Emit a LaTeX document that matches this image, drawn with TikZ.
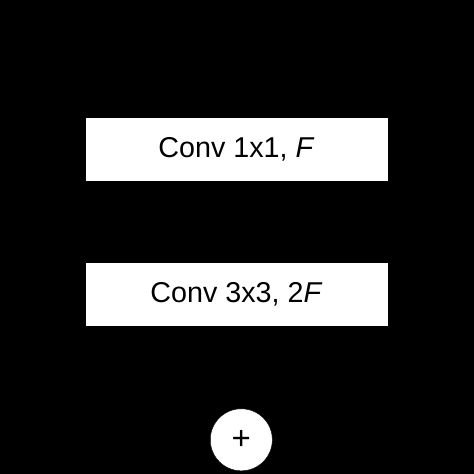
\documentclass[tikz,border=0pt]{standalone}
\usepackage{fontspec}
\setmainfont{Liberation Sans}
\usepackage{tikz}
\usetikzlibrary{positioning,arrows.meta}
\tikzset{
    layer/.style = {rectangle, draw = black, fill = white, minimum width = 303pt, minimum height = 64pt, inner sep = 0pt, font = \fontsize{28.7}{33}\selectfont},
    sum/.style = {circle, draw = black, fill = white, minimum size = 62pt, inner sep = 0pt, font = \fontsize{33}{38}\selectfont},
    flow/.style = {draw = black, line width = 1pt, -{Latex[length=8pt]}}
}
\begin{document}
\begin{tikzpicture}[x=1pt, y=1pt]
        \fill [black] (0,0) rectangle (474,474);
        \useasboundingbox (0,0) rectangle (474,474);
        \node [layer] (conv1) at (236.5,325) {Conv 1x1, \textit{F}};
        \node [layer, below = 81pt of conv1] (conv3) {Conv 3x3, 2\textit{F}};
        \node [sum, below = 82pt of conv3, xshift = 4.8pt] (add) {+};
        \draw [flow] (conv1.south -| add) -- (conv3.north -| add);
        \draw [flow] (conv3.south -| add) -- (add);
    \end{tikzpicture}
\end{document}
